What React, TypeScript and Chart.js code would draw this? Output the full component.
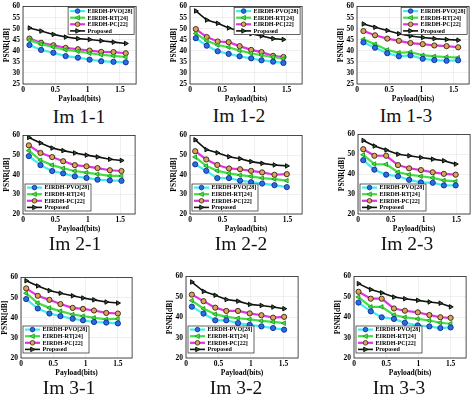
import React, { useEffect, useRef } from "react";
import { Chart, registerables } from "chart.js";

Chart.register(...registerables);

const FONT = '"Liberation Serif", "Times New Roman", serif';

// ---------- labels / ticks ----------
const SERIES_NAMES = ["EIRDH-PVO[28]", "EIRDH-RT[24]", "EIRDH-PC[22]", "Proposed"];
const PANEL_TITLES = ["Im 1-1", "Im 1-2", "Im 1-3", "Im 2-1", "Im 2-2", "Im 2-3", "Im 3-1", "Im 3-2", "Im 3-3"];
const X_TITLE = "Payload(bits)";
const Y_TITLE = "PSNR[dB]";
const X_TICKS = [0, 0.5, 1, 1.5];
const Y_TICKS_ROW1 = [25, 30, 35, 40, 45, 50, 55, 60];
const Y_TICKS_ROW23 = [20, 30, 40, 50, 60];

// ---------- data ----------
// Im 1-1
const X_11 = [0.1, 0.28, 0.47, 0.66, 0.85, 1.03, 1.21, 1.4, 1.59];
const PVO_11 = [42.6, 40.4, 39.1, 37.6, 36.9, 36.0, 35.3, 35.0, 34.8];
const RT_11 = [44.8, 43.0, 41.7, 40.4, 39.8, 38.9, 38.2, 37.7, 37.2];
const PC_11 = [45.5, 43.6, 42.5, 41.3, 40.7, 40.1, 39.5, 39.4, 38.9];
const PROP_11 = [50.3, 48.9, 47.4, 46.2, 45.5, 45.1, 44.5, 43.9, 43.3];
// Im 1-2
const X_12 = [0.09, 0.26, 0.43, 0.6, 0.77, 0.95, 1.11, 1.29, 1.45];
const PVO_12 = [45.7, 42.3, 39.8, 38.6, 37.5, 36.6, 35.7, 35.1, 34.5];
const RT_12 = [47.8, 44.5, 42.6, 41.6, 40.1, 38.9, 38.0, 37.2, 36.4];
const PC_12 = [49.8, 46.2, 44.2, 43.9, 42.1, 40.4, 39.4, 37.7, 37.2];
const PROP_12 = [58.0, 53.9, 52.4, 50.3, 48.9, 47.7, 46.7, 45.5, 45.1];
// Im 1-3
const X_13 = [0.1, 0.28, 0.47, 0.65, 0.83, 1.02, 1.2, 1.39, 1.57];
const PVO_13 = [43.8, 41.4, 38.9, 37.5, 37.9, 36.4, 35.8, 35.5, 35.7];
const RT_13 = [45.2, 43.0, 40.4, 39.1, 39.4, 38.0, 37.5, 37.2, 36.9];
const PC_13 = [48.9, 47.0, 45.5, 44.5, 43.5, 43.0, 42.4, 42.1, 41.6];
const PROP_13 = [52.1, 50.6, 49.2, 47.7, 46.7, 46.0, 45.5, 45.1, 44.8];
// Im 2-1
const X_21 = [0.09, 0.27, 0.45, 0.62, 0.8, 0.98, 1.15, 1.34, 1.52];
const PVO_21 = [49.5, 44.9, 41.9, 40.7, 39.2, 38.4, 37.5, 37.1, 36.9];
const RT_21 = [52.3, 47.4, 44.9, 43.3, 41.9, 41.1, 40.3, 39.4, 39.4];
const PC_21 = [55.0, 51.1, 49.0, 46.9, 44.9, 44.3, 43.4, 42.3, 41.9];
const PROP_21 = [59.0, 56.2, 53.6, 52.3, 51.1, 50.0, 49.1, 47.9, 47.3];
// Im 2-2
const X_22 = [0.08, 0.25, 0.42, 0.6, 0.77, 0.94, 1.11, 1.3, 1.49];
const PVO_22 = [45.3, 42.0, 38.3, 38.3, 37.0, 36.2, 35.5, 34.7, 33.7];
const RT_22 = [49.0, 44.5, 42.0, 40.7, 39.8, 39.2, 38.3, 37.8, 37.0];
const PC_22 = [52.0, 47.8, 45.0, 43.2, 42.8, 42.0, 41.2, 40.0, 40.3];
const PROP_22 = [57.8, 52.8, 51.2, 49.2, 48.2, 46.7, 45.8, 45.0, 44.5];
// Im 2-3
const X_23 = [0.08, 0.25, 0.43, 0.61, 0.78, 0.96, 1.14, 1.31, 1.49];
const PVO_23 = [47.1, 42.3, 39.8, 39.0, 37.2, 35.9, 35.7, 34.4, 34.4];
const RT_23 = [49.8, 45.1, 45.0, 41.0, 39.8, 39.0, 38.2, 36.9, 36.4];
const PC_23 = [52.6, 49.3, 49.3, 44.6, 43.0, 42.1, 41.0, 40.2, 39.8];
const PROP_23 = [57.0, 54.2, 52.2, 50.1, 49.3, 48.4, 47.6, 46.8, 45.1];
// Im 3-1
const X_31 = [0.08, 0.26, 0.44, 0.61, 0.8, 0.96, 1.13, 1.32, 1.5];
const PVO_31 = [49.3, 44.6, 42.1, 40.8, 39.5, 38.7, 37.9, 37.6, 37.2];
const RT_31 = [52.2, 47.3, 44.9, 43.3, 41.6, 40.8, 40.0, 39.2, 39.5];
const PC_31 = [54.6, 50.9, 48.9, 46.8, 44.9, 44.4, 43.6, 42.4, 42.1];
const PROP_31 = [58.4, 55.8, 53.5, 52.2, 50.9, 49.8, 48.9, 47.8, 47.3];
// Im 3-2
const X_32 = [0.09, 0.27, 0.45, 0.62, 0.8, 0.98, 1.16, 1.34, 1.51];
const PVO_32 = [45.2, 41.8, 38.5, 38.5, 37.1, 36.3, 35.5, 34.7, 33.9];
const RT_32 = [48.2, 44.2, 41.5, 40.2, 39.5, 39.0, 38.2, 37.7, 37.1];
const PC_32 = [51.1, 47.9, 44.7, 43.1, 43.1, 41.9, 41.0, 39.8, 40.2];
const PROP_32 = [57.3, 52.7, 50.8, 48.7, 47.9, 46.3, 45.8, 45.0, 44.2];
// Im 3-3
const X_33 = [0.07, 0.26, 0.43, 0.62, 0.79, 0.99, 1.17, 1.34, 1.5];
const PVO_33 = [47.2, 42.9, 40.0, 39.2, 37.3, 36.0, 35.5, 34.7, 35.0];
const RT_33 = [49.9, 45.1, 45.1, 41.1, 40.0, 39.2, 38.4, 37.3, 36.8];
const PC_33 = [52.5, 49.1, 49.1, 44.3, 43.2, 42.4, 41.1, 40.0, 39.7];
const PROP_33 = [56.5, 53.6, 52.0, 49.9, 49.1, 48.3, 47.5, 46.9, 45.1];

const PANEL_X = [X_11, X_12, X_13, X_21, X_22, X_23, X_31, X_32, X_33];
const PANEL_SERIES = [
  [PVO_11, RT_11, PC_11, PROP_11],
  [PVO_12, RT_12, PC_12, PROP_12],
  [PVO_13, RT_13, PC_13, PROP_13],
  [PVO_21, RT_21, PC_21, PROP_21],
  [PVO_22, RT_22, PC_22, PROP_22],
  [PVO_23, RT_23, PC_23, PROP_23],
  [PVO_31, RT_31, PC_31, PROP_31],
  [PVO_32, RT_32, PC_32, PROP_32],
  [PVO_33, RT_33, PC_33, PROP_33],
];
const PANEL_XMAX = [1.75, 1.74, 1.74, 1.73, 1.725, 1.71, 1.72, 1.725, 1.74];

// ---------- layout (page px) ----------
// plot area rects [left, top, right, bottom]
const PLOT_RECTS = [
  [23, 5, 137, 84], [190, 5, 303, 84], [357, 5, 470, 84],
  [23, 134, 136, 214], [190, 134, 303, 214], [358, 133, 471, 214],
  [21, 276, 133, 358], [186, 275, 299, 358], [354, 275, 467, 358],
];
const TITLE_CENTERS = [
  [79, 117], [239, 116], [406, 116],
  [75, 244], [241, 244], [407, 244],
  [69, 388], [236, 388], [399, 388],
];
const Y_AXIS_W = 22;
const X_AXIS_H = 21;
const PAD_T = 6;
const PAD_R = 4;

const STYLES = [
  { line: "#40eeee", fill: "#2b6de0", stroke: "#0a2d9c", marker: "circle", rot: 0, width: 2.2 },
  { line: "#44dd44", fill: "#4ee04e", stroke: "#17a017", marker: "triangle", rot: -90, width: 2.2 },
  { line: "#e233e2", fill: "#dca062", stroke: "#3a2408", marker: "circle", rot: 0, width: 2.2 },
  { line: "#111111", fill: "#2c5a2c", stroke: "#000000", marker: "triangle", rot: 90, width: 1.6 },
];

function drawMarker(ctx: CanvasRenderingContext2D, s: any, x: number, y: number, r: number) {
  ctx.beginPath();
  if (s.marker === "circle") {
    ctx.arc(x, y, r, 0, Math.PI * 2);
  } else {
    const dir = s.rot > 0 ? 1 : -1;
    ctx.moveTo(x + dir * r * 1.1, y);
    ctx.lineTo(x - dir * r * 0.8, y - r);
    ctx.lineTo(x - dir * r * 0.8, y + r);
    ctx.closePath();
  }
  ctx.fillStyle = s.fill;
  ctx.fill();
  ctx.lineWidth = 0.8;
  ctx.strokeStyle = s.stroke;
  ctx.stroke();
}

const framePlugin = {
  id: "frameBox",
  afterDatasetsDraw(chart: any) {
    const { ctx, chartArea: a } = chart;
    ctx.save();
    ctx.strokeStyle = "#222";
    ctx.lineWidth = 0.8;
    ctx.strokeRect(a.left, a.top, a.right - a.left, a.bottom - a.top);
    ctx.restore();
  },
};

const legendPlugin = {
  id: "boxLegend",
  afterDraw(chart: any, _args: any, opts: any) {
    const { ctx, chartArea: a } = chart;
    const w = 66;
    const h = 27;
    let x: number;
    let y: number;
    if (opts.corner === "tr") {
      x = a.right - w - opts.dx;
      y = a.top + opts.dy;
    } else {
      x = a.left + opts.dx;
      y = a.bottom - h - opts.dy;
    }
    ctx.save();
    ctx.fillStyle = "#fff";
    ctx.fillRect(x, y, w, h);
    ctx.strokeStyle = "#222";
    ctx.lineWidth = 0.7;
    ctx.strokeRect(x, y, w, h);
    ctx.font = `bold 6.1px ${FONT}`;
    ctx.textBaseline = "middle";
    ctx.textAlign = "left";
    SERIES_NAMES.forEach((name, i) => {
      const s = STYLES[i];
      const cy = y + 3.6 + i * 6.6;
      ctx.beginPath();
      ctx.moveTo(x + 2, cy);
      ctx.lineTo(x + 17, cy);
      ctx.strokeStyle = s.line;
      ctx.lineWidth = s.width;
      ctx.stroke();
      drawMarker(ctx, s, x + 9.5, cy, 2.3);
      ctx.fillStyle = "#000";
      ctx.fillText(name, x + 19.5, cy + 0.3);
    });
    ctx.restore();
  },
};

function Panel({ idx }: { idx: number }) {
  const ref = useRef<HTMLCanvasElement | null>(null);
  const [L, T, R, B] = PLOT_RECTS[idx];
  const cw = R - L + Y_AXIS_W + PAD_R;
  const ch = B - T + PAD_T + X_AXIS_H;
  const row = Math.floor(idx / 3);

  useEffect(() => {
    if (!ref.current) return;
    const xs = PANEL_X[idx];
    const yTicks = row === 0 ? Y_TICKS_ROW1 : Y_TICKS_ROW23;
    const datasets = PANEL_SERIES[idx].map((vals, si) => {
      const s = STYLES[si];
      return {
        label: SERIES_NAMES[si],
        data: xs.map((xv, i) => ({ x: xv, y: vals[i] })),
        borderColor: s.line,
        borderWidth: s.width,
        backgroundColor: s.fill,
        pointBackgroundColor: s.fill,
        pointBorderColor: s.stroke,
        pointBorderWidth: 0.9,
        pointRadius: 2.6,
        pointStyle: s.marker,
        pointRotation: s.rot,
        tension: 0,
        fill: false,
      };
    });
    const tickFont = { family: FONT, size: 7.5, weight: "bold" as const };
    const chart = new Chart(ref.current, {
      type: "line",
      data: { datasets },
      options: {
        animation: false,
        responsive: false,
        devicePixelRatio: 1,
        layout: { padding: { top: PAD_T, right: PAD_R, left: 0, bottom: 0 } },
        plugins: {
          legend: { display: false },
          tooltip: { enabled: false },
          boxLegend: row === 0 ? { corner: "tr", dx: 2, dy: 1 } : { corner: "bl", dx: 2, dy: row === 1 ? 3 : 5 },
        } as any,
        scales: {
          x: {
            type: "linear",
            position: "bottom",
            min: 0,
            max: PANEL_XMAX[idx],
            afterBuildTicks: (s: any) => {
              s.ticks = X_TICKS.map((v) => ({ value: v }));
            },
            afterFit: (s: any) => {
              s.height = X_AXIS_H;
            },
            ticks: {
              font: tickFont,
              color: "#000",
              padding: 2,
              maxRotation: 0,
              autoSkip: false,
              callback: (v: any) => String(v),
            },
            grid: { color: "rgba(0,0,0,0.1)", drawTicks: false, lineWidth: 0.6 },
            border: { display: false },
            title: {
              display: true,
              text: X_TITLE,
              color: "#000",
              font: tickFont,
              padding: { top: 0, bottom: 1 },
            },
          },
          y: {
            type: "linear",
            min: yTicks[0],
            max: yTicks[yTicks.length - 1],
            afterBuildTicks: (s: any) => {
              s.ticks = yTicks.map((v) => ({ value: v }));
            },
            afterFit: (s: any) => {
              s.width = Y_AXIS_W;
            },
            ticks: {
              font: tickFont,
              color: "#000",
              padding: 3,
              autoSkip: false,
            },
            grid: { color: "rgba(0,0,0,0.1)", drawTicks: false, lineWidth: 0.6 },
            border: { display: false },
            title: {
              display: true,
              text: Y_TITLE,
              color: "#000",
              font: tickFont,
              padding: { top: 2, bottom: 0 },
            },
          },
        },
      },
      plugins: [framePlugin, legendPlugin],
    });
    return () => chart.destroy();
  }, [idx]);

  return (
    <div
      style={{
        position: "absolute",
        left: L - Y_AXIS_W,
        top: T - PAD_T,
        width: cw,
        height: ch,
      }}
    >
      <canvas ref={ref} width={cw} height={ch} style={{ width: cw, height: ch, display: "block" }} />
    </div>
  );
}

export default function App() {
  return (
    <div
      style={{
        position: "absolute",
        left: 0,
        top: 0,
        width: 474,
        height: 395,
        overflow: "hidden",
        background: "#fff",
      }}
    >
      {PANEL_TITLES.map((t, i) => (
        <Panel key={"p" + i} idx={i} />
      ))}
      {PANEL_TITLES.map((t, i) => (
        <div
          key={"t" + i}
          style={{
            position: "absolute",
            left: TITLE_CENTERS[i][0],
            top: TITLE_CENTERS[i][1],
            transform: "translate(-50%, -50%)",
            fontFamily: FONT,
            fontSize: 19.5,
            lineHeight: 1,
            whiteSpace: "nowrap",
            color: "#111",
          }}
        >
          {t}
        </div>
      ))}
    </div>
  );
}
